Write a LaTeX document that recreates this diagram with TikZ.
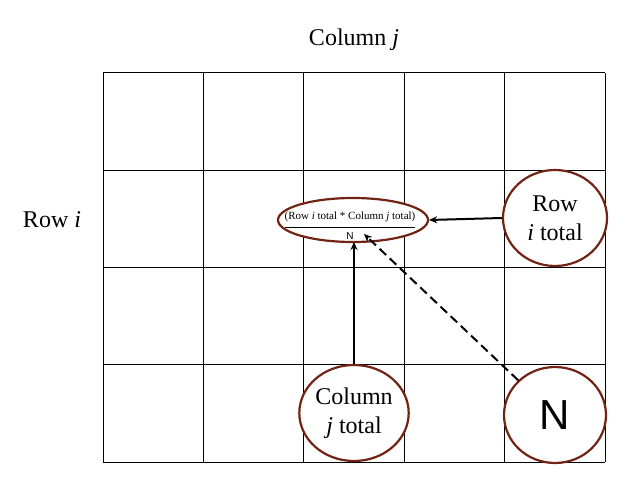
\documentclass[tikz,border=0pt]{standalone}
\usepackage{fontspec}
\setmainfont{Liberation Serif}
\newfontfamily\arialf{Liberation Sans}
\usetikzlibrary{shapes.geometric,arrows.meta}
\definecolor{brn}{RGB}{115,35,20}
\begin{document}
\begin{tikzpicture}[x=1pt,y=-1pt,
  ell/.style={draw=brn,line width=2.2pt,ellipse,inner sep=0pt,fill=white},
  big/.style={font=\fontsize{24}{29}\selectfont},
  arr/.style={-{Stealth[length=8pt,width=7pt]},line width=2pt}]
\useasboundingbox (0,0) rectangle (632,478);
\foreach \x in {103,203.4,303.8,404.2,504.6,605} \draw[line width=1pt] (\x,73) -- (\x,462);
\foreach \y in {73,170.25,267.5,364.75,462} \draw[line width=1pt] (103,\y) -- (605,\y);
\node[big] (colj) at (354,40) {Column \textit{j}};
\node[big] (rowi) at (52,220) {Row \textit{i}};
\node[ell,minimum width=150pt,minimum height=44pt] (c) at (353,220) {};
\node (ct) at (350,217) {\fontsize{11}{12}\selectfont(Row \textit{i} total * Column \textit{j} total)};
\draw[line width=0.7pt] (285,227) -- (415,227);
\node (cn) at (350,236) {\arialf\fontsize{10}{11}\selectfont N};
\node[ell,big,minimum width=104pt,minimum height=96pt,align=center] (r) at (555,218) {Row\\\textit{i} total};
\node[ell,big,minimum width=100pt,minimum height=96pt,align=center] (cj) at (354,413) {Column\\\textit{j} total};
\node[ell,minimum width=102pt,minimum height=96pt] (n) at (555,415) {\arialf\fontsize{42}{46}\selectfont N};
\draw[arr] (r.west) -- (c.east);
\draw[arr] (cj.north) -- (354,242);
\coordinate (dn) at (364,234);
\draw[arr,dashed,dash pattern=on 9pt off 5pt] (n.north west) -- (dn);
\end{tikzpicture}
\end{document}
